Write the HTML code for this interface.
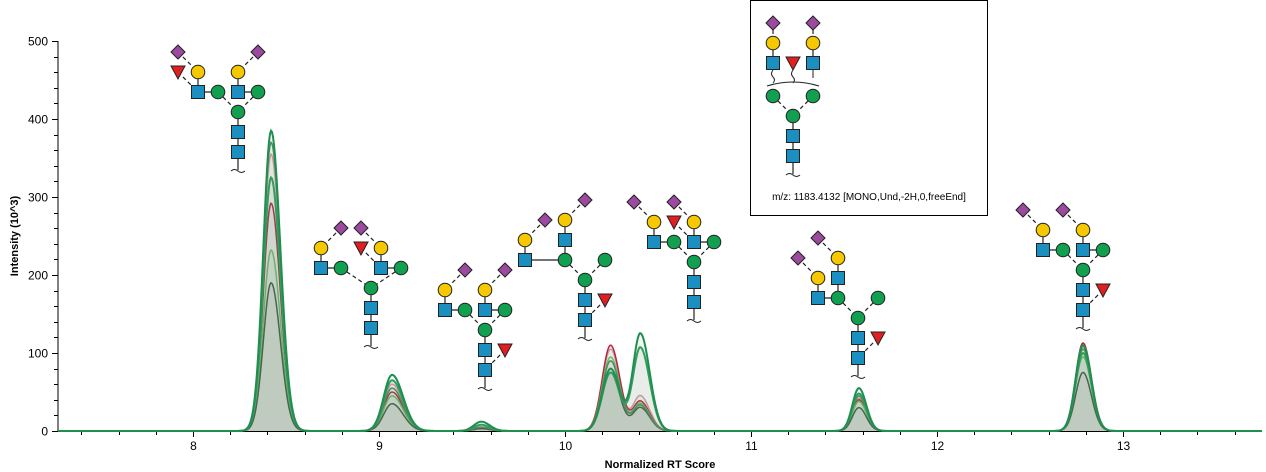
<!DOCTYPE html>
<html><head><meta charset="utf-8">
<style>
html,body{margin:0;padding:0;background:#fff;}
svg{display:block;font-family:"Liberation Sans",sans-serif;}
</style></head>
<body>
<svg id="s" width="1266" height="472" viewBox="0 0 1266 472" xmlns="http://www.w3.org/2000/svg">
<g id="axes"></g>
<g id="plot"></g>
<g id="gly"></g>
<rect x="750.5" y="0.5" width="237" height="215" fill="#fff" stroke="#000" stroke-width="1"/>
<g id="gly2"></g>
<text x="869" y="200" font-size="10" text-anchor="middle" fill="#000">m/z: 1183.4132 [MONO,Und,-2H,0,freeEnd]</text>
<text x="660" y="468" font-size="11" font-weight="bold" text-anchor="middle">Normalized RT Score</text>
<text transform="translate(18,236) rotate(-90)" font-size="11" font-weight="bold" text-anchor="middle">Intensity (10^3)</text>
</svg>
<script>
var NS="http://www.w3.org/2000/svg";
function el(p,t,a){var e=document.createElementNS(NS,t);for(var k in a)e.setAttribute(k,a[k]);p.appendChild(e);return e;}
var X=function(v){return 193+(v-8)*186;}, Y=function(v){return 431-v*0.78;};
var ax=document.getElementById('axes');
el(ax,'line',{x1:58,y1:41,x2:58,y2:431,stroke:'#000','stroke-width':1});
el(ax,'line',{x1:58,y1:431.5,x2:1262,y2:431.5,stroke:'#000','stroke-width':1});
for(var v=0;v<=500;v+=20){var y=Math.round(Y(v))+.5;var maj=v%100==0;
 el(ax,'line',{x1:maj?52:54,y1:y,x2:58,y2:y,stroke:'#000'});
 if(maj){var t=el(ax,'text',{x:48,y:y+4,'font-size':12,'text-anchor':'end'});t.textContent=v;}}
for(var i=0;i<=40;i++){var v=7.4+i*0.2;var x=Math.round(X(v))+.5;if(x<58||x>1262)continue;
 var maj=Math.abs(v-Math.round(v))<1e-6;
 el(ax,'line',{x1:x,y1:431,x2:x,y2:maj?437:435,stroke:'#000'});
 if(maj){var t=el(ax,'text',{x:x,y:450,'font-size':12,'text-anchor':'middle'});t.textContent=Math.round(v);}}
var C=[8.42,9.07,9.55,10.245,10.405,11.58,12.785];
var SL=[0.042,0.045,0.04,0.045,0.04,0.035,0.04], SR=[0.05,0.06,0.045,0.05,0.05,0.04,0.045];
var S=[
 ['#d99aa5',[355,60,4,105,45,42,108]],
 ['#b3263f',[292,50,5,110,38,40,113]],
 ['#6abf69',[232,45,4,95,35,38,95]],
 ['#3d5c48',[190,35,3,75,30,30,75]],
 ['#4a8c5c',[370,55,5,90,33,45,105]],
 ['#2e9e5e',[325,65,8,75,107,48,100]],
 ['#1f8f50',[385,72,12,80,125,55,110]]];
var pl=document.getElementById('plot');
S.forEach(function(s,si){var pts=[];
 for(var px=58;px<=1262;px+=1){var v=8+(px-193)/186;var sum=0;
  for(var k=0;k<C.length;k++){var sg=v<C[k]?SL[k]:SR[k];sum+=s[1][k]*Math.exp(-0.5*Math.pow((v-C[k])/sg,2));}
  pts.push(px+','+Y(sum).toFixed(1));}
 el(pl,'path',{d:'M58,431L'+pts.join('L')+'L1262,431Z',fill:'rgba(110,145,115,0.08)',stroke:'none'});
 el(pl,'path',{d:'M'+pts.join('L'),fill:'none',stroke:s[0],'stroke-width':si>=5?2:1.5});
});
function glycan(g,nodes,edges,tail){
 edges.forEach(function(e){var a=nodes[e[0]],b=nodes[e[1]];
  el(g,'line',{x1:a[1],y1:a[2],x2:b[1],y2:b[2],stroke:'#222','stroke-width':1.2,'stroke-dasharray':e[2]?'4,3':'none'});});
 if(tail){el(g,'line',{x1:tail[0],y1:tail[1],x2:tail[0],y2:tail[1]+18,stroke:'#222','stroke-width':1.2});
  el(g,'path',{d:'M'+(tail[0]-7)+','+(tail[1]+19)+'q3.5,-3 7,0 t7,0',fill:'none',stroke:'#222','stroke-width':1});}
 nodes.forEach(function(n){var x=n[1],y=n[2];
  if(n[0]=='S')el(g,'rect',{x:x-6.5,y:y-6.5,width:13,height:13,fill:'#1a8fc0',stroke:'#222','stroke-width':1});
  else if(n[0]=='G')el(g,'circle',{cx:x,cy:y,r:6.8,fill:'#f5c800',stroke:'#222','stroke-width':1});
  else if(n[0]=='M')el(g,'circle',{cx:x,cy:y,r:6.8,fill:'#10a050',stroke:'#222','stroke-width':1});
  else if(n[0]=='D')el(g,'polygon',{points:(x)+','+(y-7)+' '+(x+7)+','+y+' '+x+','+(y+7)+' '+(x-7)+','+y,fill:'#9b4aa0',stroke:'#222','stroke-width':1});
  else if(n[0]=='F')el(g,'polygon',{points:(x-7)+','+(y-6)+' '+(x+7)+','+(y-6)+' '+x+','+(y+7),fill:'#e02020',stroke:'#222','stroke-width':1});
 });}
var g=document.getElementById('gly');
glycan(g,[['D',178,52],['D',258,52],['F',178,72],['G',198,72],['G',238,72],['S',198,92],['S',238,92],['M',218,92],['M',258,92],['M',238,112],['S',238,132],['S',238,152]],
 [[0,3,1],[1,4,1],[2,5,1],[3,5],[4,6],[5,7],[6,8],[7,9,1],[8,9,1],[9,10],[10,11]],[238,152]);
glycan(g,[['D',341,228],['D',361,228],['F',361,248],['G',321,248],['G',381,248],['S',321,268],['S',381,268],['M',341,268],['M',401,268],['M',371,288],['S',371,308],['S',371,328]],
 [[0,3,1],[1,4,1],[2,6,1],[3,5],[4,6],[5,7],[6,8],[7,9,1],[8,9,1],[9,10],[10,11]],[371,328]);
glycan(g,[['D',465,270],['D',505,270],['G',445,290],['G',485,290],['S',445,310],['S',485,310],['M',465,310],['M',505,310],['M',485,330],['S',485,350],['S',485,370],['F',505,350]],
 [[0,2,1],[1,3,1],[2,4],[3,5],[4,6],[5,7],[6,8,1],[7,8,1],[8,9],[9,10],[11,10,1]],[485,370]);
glycan(g,[['D',545,220],['D',585,200],['G',525,240],['G',565,220],['S',525,260],['S',565,240],['M',565,260],['M',605,260],['M',585,280],['S',585,300],['S',585,320],['F',605,300]],
 [[0,2,1],[1,3,1],[2,4],[3,5],[5,6],[4,6],[6,8,1],[7,8,1],[8,9],[9,10],[11,10,1]],[585,320]);
glycan(g,[['D',634,202],['D',674,202],['F',674,222],['G',654,222],['G',694,222],['S',654,242],['S',694,242],['M',674,242],['M',714,242],['M',694,262],['S',694,282],['S',694,302]],
 [[0,3,1],[1,4,1],[2,6,1],[3,5],[4,6],[5,7],[6,8],[7,9,1],[8,9,1],[9,10],[10,11]],[694,302]);
glycan(g,[['D',818,238],['D',798,258],['G',838,258],['G',818,278],['S',838,278],['S',818,298],['M',838,298],['M',878,298],['M',858,318],['S',858,338],['S',858,358],['F',878,338]],
 [[0,2,1],[1,3,1],[2,4],[4,6],[3,5],[5,6],[6,8,1],[7,8,1],[8,9],[9,10],[11,10,1]],[858,358]);
glycan(g,[['D',1023,210],['D',1063,210],['G',1043,230],['G',1083,230],['S',1043,250],['S',1083,250],['M',1063,250],['M',1103,250],['M',1083,270],['S',1083,290],['S',1083,310],['F',1103,290]],
 [[0,2,1],[1,3,1],[2,4],[3,5],[4,6],[5,7],[6,8,1],[7,8,1],[8,9],[9,10],[11,10,1]],[1083,310]);
var g2=document.getElementById('gly2');
el(g2,'path',{d:'M767,86 Q780,82 793,82 Q806,82 819,86',fill:'none',stroke:'#222','stroke-width':1});
el(g2,'path',{d:'M773,70 q-3,4 0,7 t0,6 M793,70 q-3,4 0,7 t0,6',fill:'none',stroke:'#222','stroke-width':1});
el(g2,'line',{x1:813,y1:63,x2:813,y2:78,stroke:'#222','stroke-width':1});
glycan(g2,[['D',773,23],['D',813,23],['G',773,43],['G',813,43],['S',773,63],['S',813,63],['F',793,63],['M',773,96],['M',813,96],['M',793,116],['S',793,136],['S',793,156]],
 [[0,2,1],[1,3,1],[2,4],[3,5],[7,9,1],[8,9,1],[9,10],[10,11]],[793,156]);
</script>
</body></html>
